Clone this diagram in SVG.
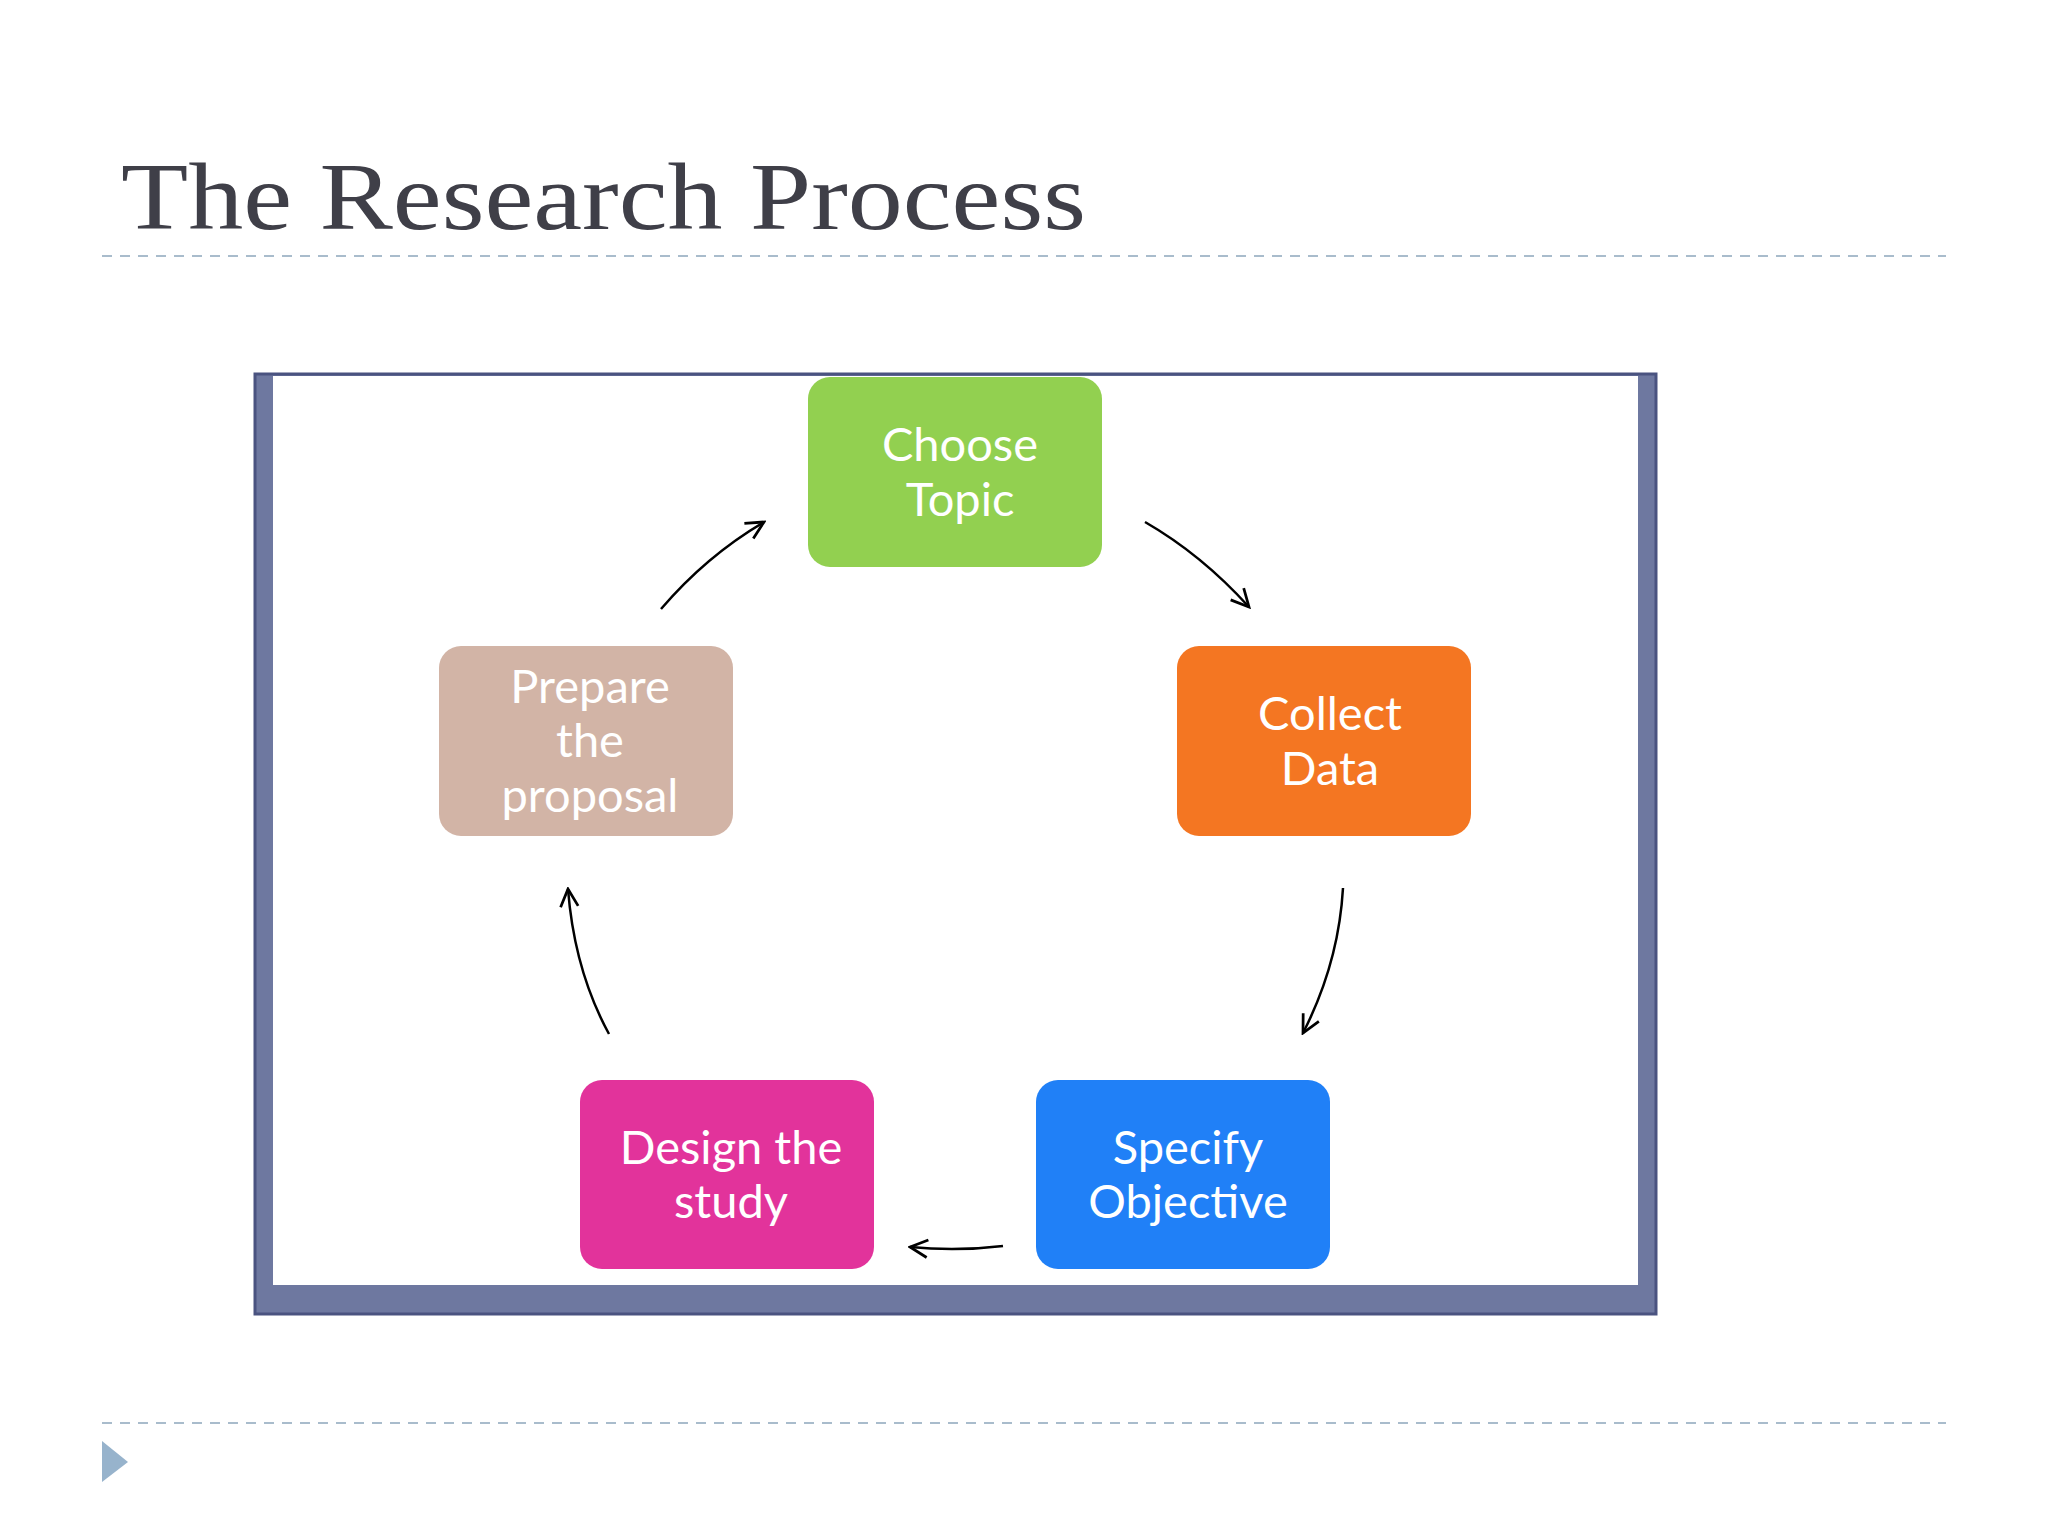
<svg xmlns="http://www.w3.org/2000/svg" width="2048" height="1536" viewBox="0 0 2048 1536">
<style>
.lbl{font-family:"Lato","Open Sans",sans-serif;font-size:47px;fill:#fff;text-anchor:middle}
.dash{stroke:#a9bccc;stroke-width:2;stroke-dasharray:10 8}
.con{fill:none;stroke:#000;stroke-width:2.5;marker-end:url(#ah)}
</style>
<defs>
<marker id="ah" viewBox="0 0 20 20" refX="18" refY="10" markerWidth="22" markerHeight="22" markerUnits="userSpaceOnUse" orient="auto">
<path d="M2,2 L18,10 L2,18" fill="none" stroke="#000" stroke-width="2.5"/>
</marker>
</defs>
<rect width="2048" height="1536" fill="#fff"/>
<text x="121" y="229" font-family="Liberation Serif,serif" font-size="96" fill="#3f3f48" textLength="965" lengthAdjust="spacingAndGlyphs">The Research Process</text>
<line class="dash" x1="102" y1="256" x2="1946" y2="256"/>
<line class="dash" x1="102" y1="1423" x2="1946" y2="1423"/>
<polygon points="102,1441 128,1462 102,1482" fill="#97b3cc"/>
<g id="frame">
<rect x="255" y="374" width="1401" height="940" fill="#6e78a0" stroke="#4a5380" stroke-width="3"/>
<rect x="273" y="376" width="1365" height="909" fill="#fff"/>
</g>
<g id="connectors">
<path class="con" d="M661,609 C690,575 725,545 764,522"/>
<path class="con" d="M1145,522 C1185,545 1220,575 1249,607"/>
<path class="con" d="M1343,888 C1340,940 1325,990 1303,1033"/>
<path class="con" d="M1003,1246 C970,1250 940,1250 910,1247"/>
<path class="con" d="M609,1034 C585,990 572,940 568,889"/>
</g>
<g id="choose"><rect x="808" y="377" width="294" height="190" rx="22" fill="#92d050"/>
<text class="lbl" x="960" y="461">Choose</text><text class="lbl" x="960" y="516">Topic</text></g>
<g id="collect"><rect x="1177" y="646" width="294" height="190" rx="22" fill="#f47622"/>
<text class="lbl" x="1330" y="730">Collect</text><text class="lbl" x="1330" y="785">Data</text></g>
<g id="specify"><rect x="1036" y="1080" width="294" height="189" rx="22" fill="#2080f7"/>
<text class="lbl" x="1188" y="1164">Specify</text><text class="lbl" x="1188" y="1218">Objective</text></g>
<g id="design"><rect x="580" y="1080" width="294" height="189" rx="22" fill="#e2339b"/>
<text class="lbl" x="731" y="1164">Design the</text><text class="lbl" x="731" y="1218">study</text></g>
<g id="prepare"><rect x="439" y="646" width="294" height="190" rx="22" fill="#d2b4a6"/>
<text class="lbl" x="590" y="703">Prepare</text><text class="lbl" x="590" y="757">the</text><text class="lbl" x="590" y="812">proposal</text></g>
</svg>
